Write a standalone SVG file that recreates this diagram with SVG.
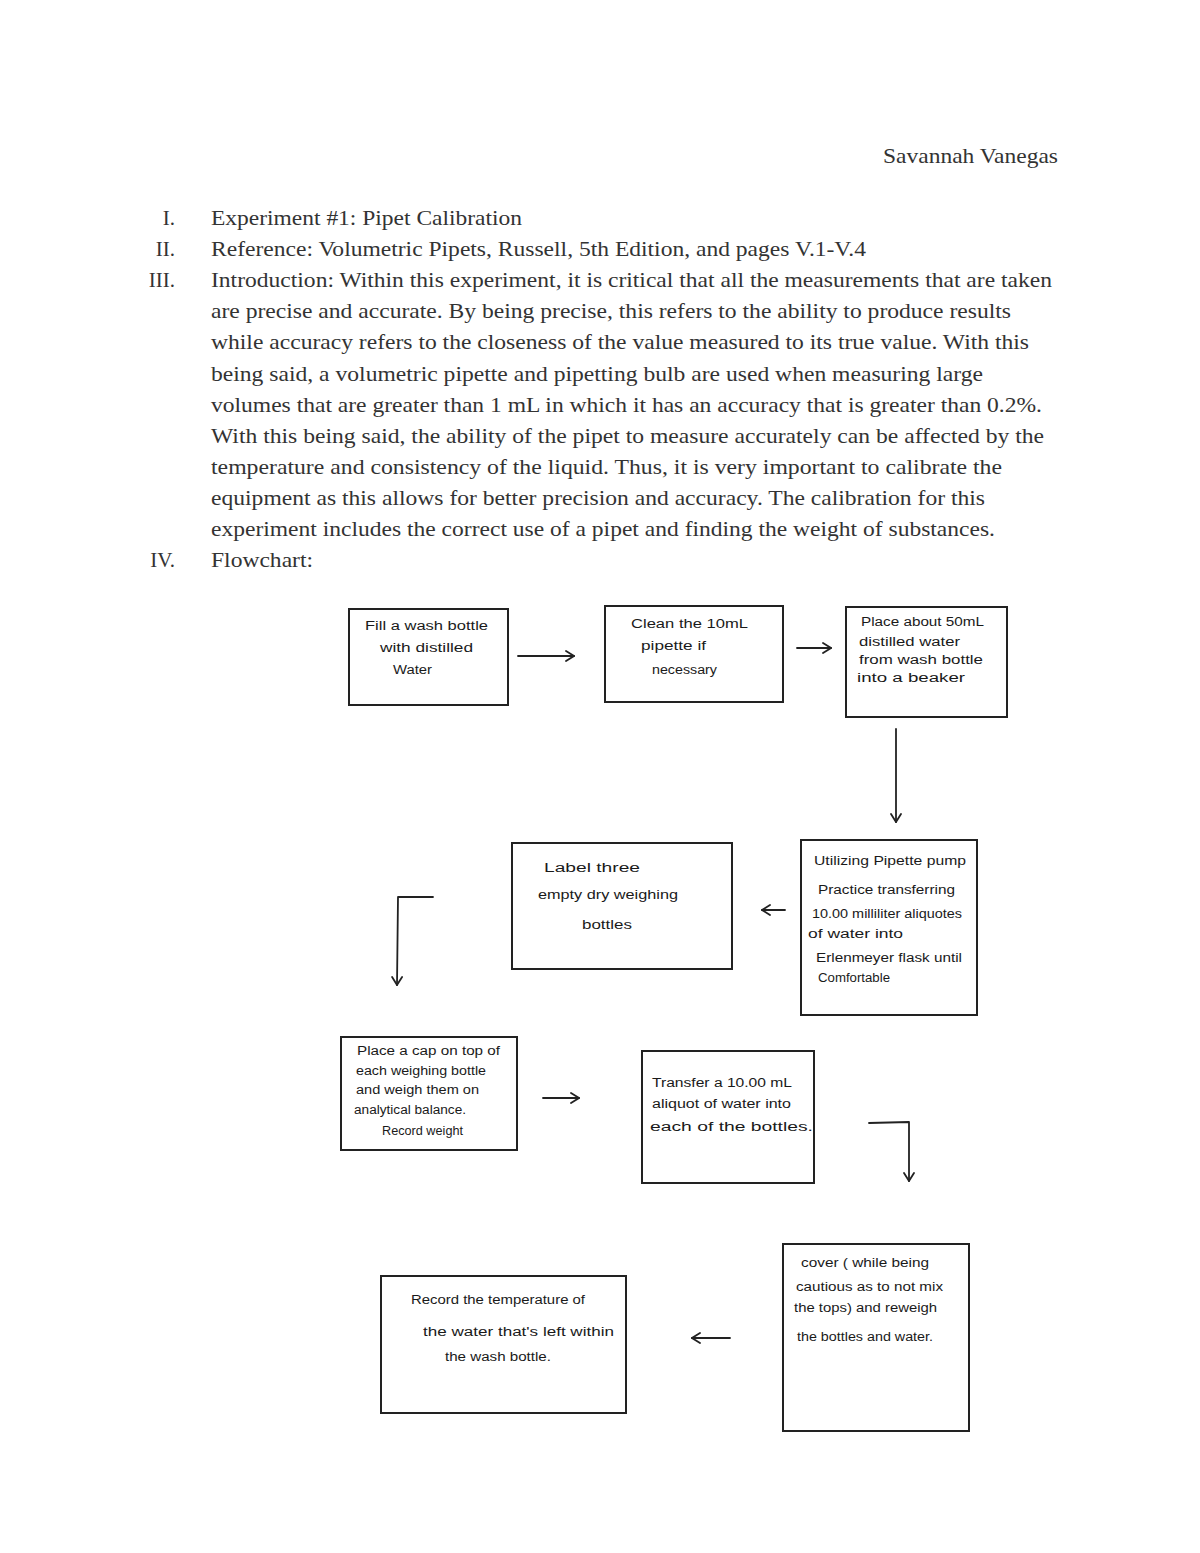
<svg xmlns="http://www.w3.org/2000/svg" width="1200" height="1553" viewBox="0 0 1200 1553">
<defs>
<style>
.doc{font-family:"Liberation Serif","DejaVu Serif",serif;font-size:21px;fill:#333;}
.hw{font-family:"Liberation Sans","DejaVu Sans",sans-serif;font-size:12.5px;fill:#1a1a1a;}
.box{fill:#fff;stroke:#222;stroke-width:2;}
.con{fill:none;stroke:#222;stroke-width:1.8;stroke-linecap:round;stroke-linejoin:round;}
</style>
<marker id="ah" viewBox="0 0 12 12" refX="11" refY="6" markerWidth="12" markerHeight="12" markerUnits="userSpaceOnUse" orient="auto">
<path d="M3,1 L11,6 L3,11" fill="none" stroke="#222" stroke-width="1.8" stroke-linecap="round"/>
</marker>
</defs>
<rect width="1200" height="1553" fill="#fff"/>

<g id="header">
<text class="doc" x="883" y="163" textLength="175" lengthAdjust="spacingAndGlyphs">Savannah Vanegas</text>
<text class="doc" x="175" y="225" text-anchor="end">I.</text>
<text class="doc" x="211" y="225" textLength="311" lengthAdjust="spacingAndGlyphs">Experiment #1: Pipet Calibration</text>
<text class="doc" x="175" y="256" text-anchor="end">II.</text>
<text class="doc" x="211" y="256" textLength="655" lengthAdjust="spacingAndGlyphs">Reference: Volumetric Pipets, Russell, 5th Edition, and pages V.1-V.4</text>
<text class="doc" x="175" y="287" text-anchor="end">III.</text>
<text class="doc" x="211" y="287" textLength="841" lengthAdjust="spacingAndGlyphs">Introduction: Within this experiment, it is critical that all the measurements that are taken</text>
<text class="doc" x="211" y="318" textLength="800" lengthAdjust="spacingAndGlyphs">are precise and accurate. By being precise, this refers to the ability to produce results</text>
<text class="doc" x="211" y="349" textLength="818" lengthAdjust="spacingAndGlyphs">while accuracy refers to the closeness of the value measured to its true value. With this</text>
<text class="doc" x="211" y="381" textLength="772" lengthAdjust="spacingAndGlyphs">being said, a volumetric pipette and pipetting bulb are used when measuring large</text>
<text class="doc" x="211" y="412" textLength="831" lengthAdjust="spacingAndGlyphs">volumes that are greater than 1 mL in which it has an accuracy that is greater than 0.2%.</text>
<text class="doc" x="211" y="443" textLength="833" lengthAdjust="spacingAndGlyphs">With this being said, the ability of the pipet to measure accurately can be affected by the</text>
<text class="doc" x="211" y="474" textLength="791" lengthAdjust="spacingAndGlyphs">temperature and consistency of the liquid.  Thus, it is very important to calibrate the</text>
<text class="doc" x="211" y="505" textLength="774" lengthAdjust="spacingAndGlyphs">equipment as this allows for better precision and accuracy. The calibration for this</text>
<text class="doc" x="211" y="536" textLength="784" lengthAdjust="spacingAndGlyphs">experiment includes the correct use of a pipet and finding the weight of substances.</text>
<text class="doc" x="175" y="567" text-anchor="end">IV.</text>
<text class="doc" x="211" y="567" textLength="102" lengthAdjust="spacingAndGlyphs">Flowchart:</text>
</g>

<g id="connectors">
<path class="con" d="M518,656 L574,656" marker-end="url(#ah)"/>
<path class="con" d="M797,648 L831,648" marker-end="url(#ah)"/>
<path class="con" d="M896,729 L896,822" marker-end="url(#ah)"/>
<path class="con" d="M785,910 L762,910" marker-end="url(#ah)"/>
<path class="con" d="M433,897 L398,897 L397,985" marker-end="url(#ah)"/>
<path class="con" d="M543,1098 L579,1098" marker-end="url(#ah)"/>
<path class="con" d="M869,1123 L909,1122 L909,1181" marker-end="url(#ah)"/>
<path class="con" d="M730,1338 L692,1338" marker-end="url(#ah)"/>
</g>

<g id="n1">
<rect class="box" x="349" y="609" width="159" height="96"/>
<text class="hw" x="365" y="630" textLength="123" lengthAdjust="spacingAndGlyphs">Fill a wash bottle</text>
<text class="hw" x="380" y="652" textLength="93" lengthAdjust="spacingAndGlyphs">with distilled</text>
<text class="hw" x="393" y="674" textLength="39" lengthAdjust="spacingAndGlyphs">Water</text>
</g>
<g id="n2">
<rect class="box" x="605" y="606" width="178" height="96"/>
<text class="hw" x="631" y="628" textLength="117" lengthAdjust="spacingAndGlyphs">Clean the 10mL</text>
<text class="hw" x="641" y="650" textLength="65" lengthAdjust="spacingAndGlyphs">pipette if</text>
<text class="hw" x="652" y="674" textLength="65" lengthAdjust="spacingAndGlyphs">necessary</text>
</g>
<g id="n3">
<rect class="box" x="846" y="607" width="161" height="110"/>
<text class="hw" x="861" y="626" textLength="123" lengthAdjust="spacingAndGlyphs">Place about 50mL</text>
<text class="hw" x="859" y="646" textLength="101" lengthAdjust="spacingAndGlyphs">distilled water</text>
<text class="hw" x="859" y="664" textLength="124" lengthAdjust="spacingAndGlyphs">from wash bottle</text>
<text class="hw" x="857" y="682" textLength="108" lengthAdjust="spacingAndGlyphs">into a beaker</text>
</g>
<g id="n4">
<rect class="box" x="801" y="840" width="176" height="175"/>
<text class="hw" x="814" y="865" textLength="152" lengthAdjust="spacingAndGlyphs">Utilizing Pipette pump</text>
<text class="hw" x="818" y="894" textLength="137" lengthAdjust="spacingAndGlyphs">Practice transferring</text>
<text class="hw" x="812" y="918" textLength="150" lengthAdjust="spacingAndGlyphs">10.00 milliliter aliquotes</text>
<text class="hw" x="808" y="938" textLength="95" lengthAdjust="spacingAndGlyphs">of water into</text>
<text class="hw" x="816" y="962" textLength="146" lengthAdjust="spacingAndGlyphs">Erlenmeyer flask until</text>
<text class="hw" x="818" y="982" textLength="72" lengthAdjust="spacingAndGlyphs">Comfortable</text>
</g>
<g id="n5">
<rect class="box" x="512" y="843" width="220" height="126"/>
<text class="hw" x="544" y="872" textLength="96" lengthAdjust="spacingAndGlyphs">Label    three</text>
<text class="hw" x="538" y="899" textLength="140" lengthAdjust="spacingAndGlyphs">empty dry weighing</text>
<text class="hw" x="582" y="929" textLength="50" lengthAdjust="spacingAndGlyphs">bottles</text>
</g>
<g id="n6">
<rect class="box" x="341" y="1037" width="176" height="113"/>
<text class="hw" x="357" y="1055" textLength="143" lengthAdjust="spacingAndGlyphs">Place a cap on top of</text>
<text class="hw" x="356" y="1075" textLength="130" lengthAdjust="spacingAndGlyphs">each weighing bottle</text>
<text class="hw" x="356" y="1094" textLength="123" lengthAdjust="spacingAndGlyphs">and weigh them on</text>
<text class="hw" x="354" y="1114" textLength="112" lengthAdjust="spacingAndGlyphs">analytical balance.</text>
<text class="hw" x="382" y="1135" textLength="81" lengthAdjust="spacingAndGlyphs">Record weight</text>
</g>
<g id="n7">
<rect class="box" x="642" y="1051" width="172" height="132"/>
<text class="hw" x="652" y="1087" textLength="140" lengthAdjust="spacingAndGlyphs">Transfer a 10.00 mL</text>
<text class="hw" x="652" y="1108" textLength="139" lengthAdjust="spacingAndGlyphs">aliquot of water into</text>
<text class="hw" x="650" y="1131" textLength="163" lengthAdjust="spacingAndGlyphs">each  of the bottles.</text>
</g>
<g id="n8">
<rect class="box" x="783" y="1244" width="186" height="187"/>
<text class="hw" x="801" y="1267" textLength="128" lengthAdjust="spacingAndGlyphs">cover ( while being</text>
<text class="hw" x="796" y="1291" textLength="147" lengthAdjust="spacingAndGlyphs">cautious as to not mix</text>
<text class="hw" x="794" y="1312" textLength="143" lengthAdjust="spacingAndGlyphs">the tops) and reweigh</text>
<text class="hw" x="797" y="1341" textLength="136" lengthAdjust="spacingAndGlyphs">the bottles and water.</text>
</g>
<g id="n9">
<rect class="box" x="381" y="1276" width="245" height="137"/>
<text class="hw" x="411" y="1304" textLength="174" lengthAdjust="spacingAndGlyphs">Record the temperature of</text>
<text class="hw" x="423" y="1336" textLength="191" lengthAdjust="spacingAndGlyphs">the water that's left within</text>
<text class="hw" x="445" y="1361" textLength="106" lengthAdjust="spacingAndGlyphs">the wash bottle.</text>
</g>
</svg>
